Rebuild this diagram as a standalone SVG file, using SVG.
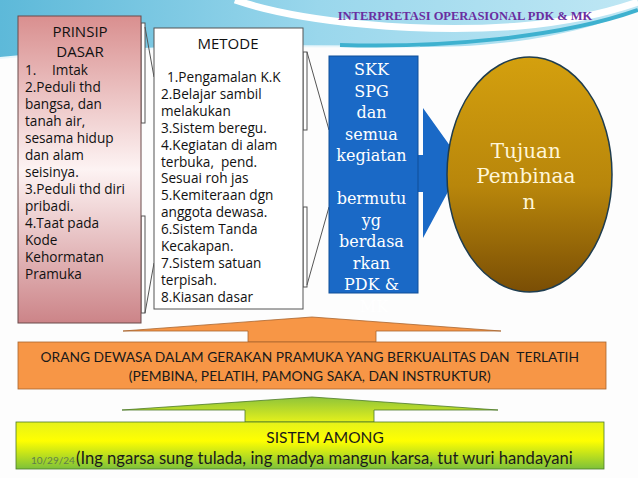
<svg xmlns="http://www.w3.org/2000/svg" width="638" height="478" viewBox="0 0 638 478">
<style>
.os{font-family:"Open Sans","Noto Sans",sans-serif;fill:#111}
.lt{font-family:Lato,"Open Sans",sans-serif;fill:#1a1a1a}
.sf{font-family:"DejaVu Serif","Liberation Serif",serif}
.pre{white-space:pre}
.thin{fill:#fff;stroke:#555;stroke-width:1}
.cl{stroke:#555;stroke-width:1;fill:none}
</style>
<defs>
<linearGradient id="sky" x1="0" y1="0" x2="1" y2="0">
<stop offset="0" stop-color="#5db9d9"/>
<stop offset="0.5" stop-color="#9ad7ec"/>
<stop offset="1" stop-color="#bfe7f4"/>
</linearGradient>
<linearGradient id="pink" x1="0" y1="0" x2="0" y2="1">
<stop offset="0" stop-color="#d98f8f"/>
<stop offset="0.5" stop-color="#fdf3f3"/>
<stop offset="1" stop-color="#cc8488"/>
</linearGradient>
<linearGradient id="gold" x1="0" y1="0" x2="0" y2="1">
<stop offset="0" stop-color="#d4a00e"/>
<stop offset="0.55" stop-color="#b8860b"/>
<stop offset="1" stop-color="#7a4e05"/>
</linearGradient>
<linearGradient id="yg" gradientUnits="userSpaceOnUse" x1="0" y1="397" x2="0" y2="470">
<stop offset="0" stop-color="#8fc43a"/>
<stop offset="0.35" stop-color="#e6f21a"/>
<stop offset="0.6" stop-color="#ffff00"/>
<stop offset="1" stop-color="#78bf3c"/>
</linearGradient>
</defs>

<rect width="638" height="478" fill="#fdfdfd"/>
<g id="background">
<path d="M0,0 H638 V8 C600,28 520,48 420,47 C300,46 180,44 0,58 Z" fill="url(#sky)"/>
<path d="M0,58 C150,44 300,46 420,47" fill="none" stroke="#e8f6fb" stroke-width="2"/>
<path d="M235,0 C300,22 420,34 520,26 C575,21 615,10 638,2" fill="none" stroke="#ffffff" stroke-width="7"/>
<path d="M340,45 C440,48 560,38 638,10" fill="none" stroke="#3eb1cf" stroke-width="4"/>
</g>

<text x="465" y="20" text-anchor="middle" font-family="'Liberation Serif',serif" font-weight="bold" font-size="12.5" fill="#6a2ea0">INTERPRETASI OPERASIONAL PDK &amp; MK</text>

<g id="connectors">
<rect class="thin" x="141" y="23" width="4" height="100"/>
<rect class="thin" x="141" y="216" width="4" height="97"/>
<line class="cl" x1="145" y1="27" x2="154" y2="77"/>
<line class="cl" x1="154" y1="263" x2="145" y2="313"/>
<rect class="thin" x="303" y="52" width="4" height="78"/>
<rect class="thin" x="303" y="207" width="4" height="80"/>
<line class="cl" x1="307" y1="52" x2="329" y2="130"/>
<line class="cl" x1="329" y1="207" x2="307" y2="285"/>
<path d="M418,155 H423 V108 L463,164 L423,238 V192 H418 Z" fill="#1a69c6"/>
<path d="M312,317 L501,331 H376 V342 H248 V331 H123 Z" fill="#f79646" stroke="#a8652f" stroke-width="0.8"/>
<path d="M312,397 L498,410 H374 V422 H245 V410 H122 Z" fill="url(#yg)" stroke="#4d7a2a" stroke-width="0.8"/>
</g>

<g id="prinsip">
<rect x="18" y="16" width="123" height="307" fill="url(#pink)" stroke="#6b4a4a" stroke-width="1"/>
<text class="os" font-size="15" text-anchor="middle"><tspan x="80" y="37">PRINSIP</tspan><tspan x="80" y="57">DASAR</tspan></text>
<text class="os" font-size="13.6">
<tspan x="25" y="75">1.</tspan><tspan x="52" y="75">Imtak</tspan>
<tspan x="25" y="92">2.Peduli thd</tspan>
<tspan x="25" y="109">bangsa, dan</tspan>
<tspan x="25" y="126">tanah air,</tspan>
<tspan x="25" y="143">sesama hidup</tspan>
<tspan x="25" y="160">dan alam</tspan>
<tspan x="25" y="177">seisinya.</tspan>
<tspan x="25" y="194">3.Peduli thd diri</tspan>
<tspan x="25" y="211">pribadi.</tspan>
<tspan x="25" y="228">4.Taat pada</tspan>
<tspan x="25" y="245">Kode</tspan>
<tspan x="25" y="262">Kehormatan</tspan>
<tspan x="25" y="279">Pramuka</tspan>
</text>
</g>

<g id="metode">
<rect x="154" y="28" width="149" height="281" fill="#fff" stroke="#555" stroke-width="1"/>
<text class="os" x="228" y="49" font-size="15" text-anchor="middle">METODE</text>
<text class="os pre" font-size="13.6">
<tspan x="167" y="82">1.Pengamalan K.K</tspan>
<tspan x="161" y="99">2.Belajar sambil</tspan>
<tspan x="161" y="116">melakukan</tspan>
<tspan x="161" y="133">3.Sistem beregu.</tspan>
<tspan x="161" y="150">4.Kegiatan di alam</tspan>
<tspan x="161" y="167">terbuka,  pend.</tspan>
<tspan x="161" y="183">Sesuai roh jas</tspan>
<tspan x="161" y="200">5.Kemiteraan dgn</tspan>
<tspan x="161" y="217">anggota dewasa.</tspan>
<tspan x="161" y="234">6.Sistem Tanda</tspan>
<tspan x="161" y="251">Kecakapan.</tspan>
<tspan x="161" y="268">7.Sistem satuan</tspan>
<tspan x="161" y="285">terpisah.</tspan>
<tspan x="161" y="302">8.Kiasan dasar</tspan>
</text>
</g>

<g id="skk">
<rect x="329" y="56" width="89" height="237" fill="#1a69c6" stroke="#0f4e98" stroke-width="1"/>
<text class="sf" font-size="16" fill="#fff" text-anchor="middle">
<tspan x="374" y="75">SKK</tspan>
<tspan x="374" y="96.5">SPG</tspan>
<tspan x="374" y="118">dan</tspan>
<tspan x="374" y="139.5">semua</tspan>
<tspan x="374" y="161">kegiatan</tspan>
<tspan x="374" y="204">bermutu</tspan>
<tspan x="374" y="225.5">yg</tspan>
<tspan x="374" y="247">berdasa</tspan>
<tspan x="374" y="268.5">rkan</tspan>
<tspan x="374" y="290">PDK &amp;</tspan>
<tspan x="374" y="311.5">MK</tspan>
</text>
</g>

<g id="tujuan">
<ellipse cx="529.5" cy="174.5" rx="82.5" ry="117.5" fill="url(#gold)" stroke="#1f3d4f" stroke-width="1.5"/>
<text class="sf" font-size="20" fill="#fff6d8" text-anchor="middle">
<tspan x="529" y="158">Tujuan</tspan>
<tspan x="529" y="183">Pembinaa</tspan>
<tspan x="529" y="209">n</tspan>
</text>
</g>

<g id="orang-dewasa">
<rect x="18" y="342" width="588" height="47" fill="#f79646" stroke="#a8652f" stroke-width="0.8"/>
<text class="lt pre" font-size="13.8" text-anchor="middle">
<tspan x="311.5" y="362">ORANG DEWASA DALAM GERAKAN PRAMUKA YANG BERKUALITAS DAN  TERLATIH</tspan>
<tspan x="311.5" y="381">(PEMBINA, PELATIH, PAMONG SAKA, DAN INSTRUKTUR)</tspan>
</text>
</g>

<g id="sistem-among">
<rect x="16" y="422" width="588" height="47" fill="url(#yg)" stroke="#4d7a2a" stroke-width="0.8"/>
<text class="lt" x="325" y="443" font-size="15.5" text-anchor="middle">SISTEM AMONG</text>
<text class="lt" x="76" y="464" font-size="16.6">(Ing ngarsa sung tulada, ing madya mangun karsa, tut wuri handayani</text>
<text x="31" y="464" font-family="Lato,'Open Sans',sans-serif" font-size="10" fill="#5f7f4a">10/29/24</text>
</g>
</svg>
